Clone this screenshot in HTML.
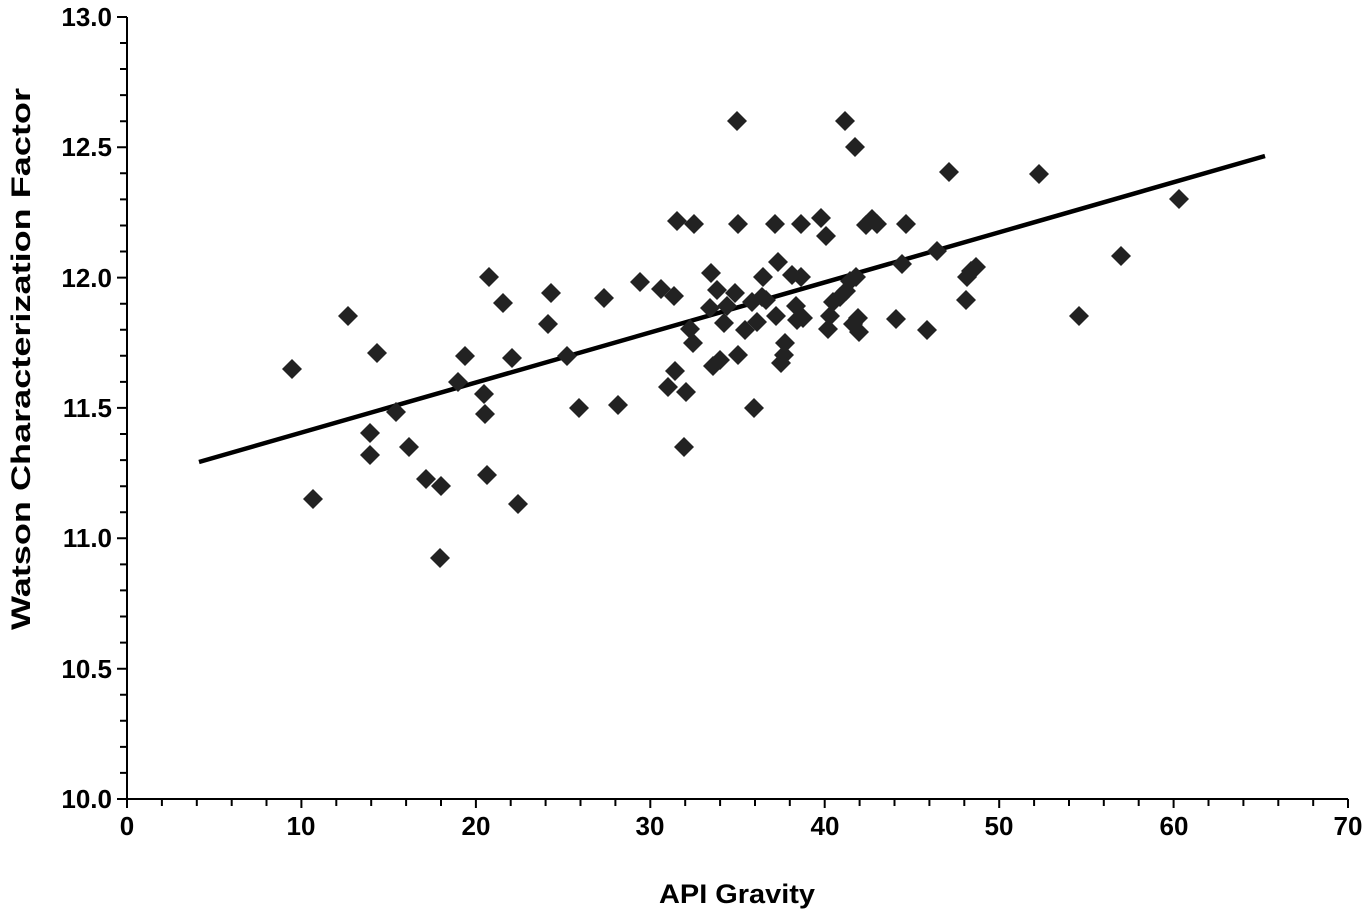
<!DOCTYPE html>
<html><head><style>body{margin:0;background:#fff}svg{display:block}</style></head><body>
<svg width="1364" height="919" xmlns="http://www.w3.org/2000/svg" font-family="Liberation Sans, Arial, sans-serif" font-weight="bold">
<defs><polygon id="d" points="0,-10 10,0 0,10 -10,0" fill="#222"/></defs>
<rect width="1364" height="919" fill="#fff"/>
<path stroke="#000" stroke-width="2" fill="none" d="M127,799v9M161.9,799v7M196.8,799v7M231.7,799v7M266.5,799v7M301.4,799v9M336.3,799v7M371.2,799v7M406.1,799v7M441,799v7M475.9,799v9M510.7,799v7M545.6,799v7M580.5,799v7M615.4,799v7M650.3,799v9M685.2,799v7M720.1,799v7M755,799v7M789.8,799v7M824.7,799v9M859.6,799v7M894.5,799v7M929.4,799v7M964.3,799v7M999.2,799v9M1034.1,799v7M1069,799v7M1103.8,799v7M1138.7,799v7M1173.6,799v9M1208.5,799v7M1243.4,799v7M1278.3,799v7M1313.2,799v7M1348,799v9
M127,799h-10M127,772.9h-7M127,746.9h-7M127,720.8h-7M127,694.7h-7M127,668.7h-10M127,642.6h-7M127,616.5h-7M127,590.4h-7M127,564.4h-7M127,538.3h-10M127,512.2h-7M127,486.2h-7M127,460.1h-7M127,434h-7M127,407.9h-10M127,381.9h-7M127,355.8h-7M127,329.7h-7M127,303.7h-7M127,277.6h-10M127,251.5h-7M127,225.5h-7M127,199.4h-7M127,173.3h-7M127,147.3h-10M127,121.2h-7M127,95.1h-7M127,69h-7M127,43h-7M127,17h-10"/>
<line x1="127" y1="17" x2="127" y2="799" stroke="#000" stroke-width="2"/>
<line x1="127" y1="799" x2="1348" y2="799" stroke="#000" stroke-width="2"/>
<g font-size="26" text-anchor="end" fill="#000">
<text x="112" y="808">10.0</text><text x="112" y="678">10.5</text><text x="112" y="547">11.0</text><text x="112" y="417">11.5</text><text x="112" y="287">12.0</text><text x="112" y="156">12.5</text><text x="112" y="26">13.0</text>
</g>
<g font-size="26" text-anchor="middle" fill="#000">
<text x="127" y="835">0</text><text x="301" y="835">10</text><text x="476" y="835">20</text><text x="650" y="835">30</text><text x="825" y="835">40</text><text x="999" y="835">50</text><text x="1174" y="835">60</text><text x="1348" y="835">70</text>
</g>
<text x="659" y="903" font-size="27" textLength="156" lengthAdjust="spacingAndGlyphs">API Gravity</text>
<text transform="translate(30,630) rotate(-90)" font-size="27" textLength="542" lengthAdjust="spacingAndGlyphs">Watson Characterization Factor</text>
<line x1="199" y1="462" x2="1265" y2="156" stroke="#000" stroke-width="4.5"/>
<g>
<use href="#d" x="292" y="369"/><use href="#d" x="313" y="499"/><use href="#d" x="348" y="316"/><use href="#d" x="370" y="433"/><use href="#d" x="370" y="455"/><use href="#d" x="377" y="353"/><use href="#d" x="396" y="412"/><use href="#d" x="409" y="447"/><use href="#d" x="426" y="479"/><use href="#d" x="441" y="486"/><use href="#d" x="440" y="558"/><use href="#d" x="458" y="382"/><use href="#d" x="465" y="356"/><use href="#d" x="484" y="394"/><use href="#d" x="485" y="414"/><use href="#d" x="487" y="475"/><use href="#d" x="489" y="277"/><use href="#d" x="503" y="303"/><use href="#d" x="512" y="358"/><use href="#d" x="518" y="504"/><use href="#d" x="548" y="324"/><use href="#d" x="551" y="293"/><use href="#d" x="567" y="356"/><use href="#d" x="579" y="408"/><use href="#d" x="604" y="298"/><use href="#d" x="618" y="405"/><use href="#d" x="640" y="282"/><use href="#d" x="661" y="289"/><use href="#d" x="668" y="387"/><use href="#d" x="674" y="296"/><use href="#d" x="675" y="371"/><use href="#d" x="677" y="221"/><use href="#d" x="684" y="447"/><use href="#d" x="686" y="392"/><use href="#d" x="690" y="329"/><use href="#d" x="693" y="343"/><use href="#d" x="694" y="224"/><use href="#d" x="710" y="308"/><use href="#d" x="711" y="273"/><use href="#d" x="713" y="366"/><use href="#d" x="717" y="290"/><use href="#d" x="720" y="360"/><use href="#d" x="724" y="323"/><use href="#d" x="727" y="306"/><use href="#d" x="735" y="293"/><use href="#d" x="737" y="121"/><use href="#d" x="738" y="224"/><use href="#d" x="738" y="355"/><use href="#d" x="745" y="330"/><use href="#d" x="754" y="408"/><use href="#d" x="752" y="302"/><use href="#d" x="757" y="322"/><use href="#d" x="762" y="297"/><use href="#d" x="763" y="277"/><use href="#d" x="766" y="300"/><use href="#d" x="775" y="224"/><use href="#d" x="776" y="316"/><use href="#d" x="778" y="262"/><use href="#d" x="781" y="363"/><use href="#d" x="784" y="355"/><use href="#d" x="785" y="343"/><use href="#d" x="792" y="275"/><use href="#d" x="796" y="306"/><use href="#d" x="797" y="320"/><use href="#d" x="801" y="224"/><use href="#d" x="801" y="277"/><use href="#d" x="803" y="318"/><use href="#d" x="821" y="218"/><use href="#d" x="826" y="236"/><use href="#d" x="828" y="329"/><use href="#d" x="830" y="316"/><use href="#d" x="833" y="302"/><use href="#d" x="840" y="297"/><use href="#d" x="845" y="121"/><use href="#d" x="846" y="291"/><use href="#d" x="850" y="281"/><use href="#d" x="853" y="324"/><use href="#d" x="855" y="147"/><use href="#d" x="856" y="277"/><use href="#d" x="858" y="318"/><use href="#d" x="859" y="332"/><use href="#d" x="866" y="225"/><use href="#d" x="872" y="219"/><use href="#d" x="877" y="224"/><use href="#d" x="896" y="319"/><use href="#d" x="902" y="264"/><use href="#d" x="906" y="224"/><use href="#d" x="927" y="330"/><use href="#d" x="937" y="251"/><use href="#d" x="949" y="172"/><use href="#d" x="966" y="300"/><use href="#d" x="967" y="277"/><use href="#d" x="971" y="271"/><use href="#d" x="976" y="267"/><use href="#d" x="1039" y="174"/><use href="#d" x="1079" y="316"/><use href="#d" x="1121" y="256"/><use href="#d" x="1179" y="199"/>
</g>
</svg>
</body></html>
